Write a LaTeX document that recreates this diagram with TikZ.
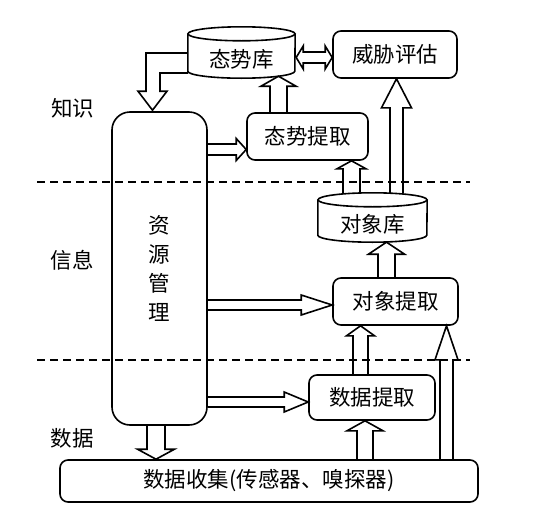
\documentclass[tikz,border=0pt]{standalone}
\usepackage{fontspec}
\setmainfont{Noto Sans CJK SC}
\usetikzlibrary{calc}

\tikzset{
	box/.style={draw, line width=1.6pt, rounded corners=8pt, minimum width=#1, minimum height=47pt, inner sep=0pt},
	dbnode/.style={inner sep=0pt},
	dbline/.style={line width=1.6pt},
	fat/.style={line width=1.6pt, line join=miter},
	layer/.style={inner sep=0pt},
	divider/.style={line width=1.6pt, dash pattern=on 8pt off 5pt}
}

\newcommand\dbdraw[2]{%
	\draw[dbline] ($(#1.north)+(0,-7)$) ellipse [x radius=#2, y radius=7pt];
	\draw[dbline] ($(#1.north west)+(0,-7)$) -- ($(#1.south west)+(0,-7)$)
		arc[start angle=180, end angle=360, x radius=#2, y radius=7pt] -- ($(#1.north east)+(0,-7)$);
}
\newcommand\fatarrow[5]{%
	\coordinate (fa-b) at ($(#2)!#5!(#1)$);
	\draw[fat] ($(#1)!#3!90:(#2)$) -- ($(fa-b)!#3!90:(#2)$) -- ($(fa-b)!#4!90:(#2)$) -- (#2)
		-- ($(fa-b)!#4!-90:(#2)$) -- ($(fa-b)!#3!-90:(#2)$) -- ($(#1)!#3!-90:(#2)$);
}
\newcommand\fatboth[5]{%
	\coordinate (fb-a) at ($(#1)!#5!(#2)$);
	\coordinate (fb-b) at ($(#2)!#5!(#1)$);
	\draw[fat] (#1) -- ($(fb-a)!#4!90:(#2)$) -- ($(fb-a)!#3!90:(#2)$) -- ($(fb-b)!#3!-90:(#1)$)
		-- ($(fb-b)!#4!-90:(#1)$) -- (#2) -- ($(fb-b)!#4!90:(#1)$) -- ($(fb-b)!#3!90:(#1)$)
		-- ($(fb-a)!#3!-90:(#2)$) -- ($(fb-a)!#4!-90:(#2)$) -- cycle;
}

\begin{document}
\begin{tikzpicture}[x=1pt, y=-1pt, font=\fontsize{21.5}{29}\selectfont]
	\useasboundingbox (0,0) rectangle (558,509);

	\draw[divider] (37,182) -- (470,182);
	\draw[divider] (37,360) -- (470,360);

	\node[layer] (knowledge) at (72.5,108) {知识};
	\node[layer] (info) at (72,260) {信息};
	\node[layer] (data) at (72,438) {数据};

	\node[dbnode, minimum width=107pt, minimum height=37pt] (sitdb) at (241.5,59.5) {态势库};
	\dbdraw{sitdb}{53.5pt}
	\node[box=124pt] (threat) at (395,54.5) {威胁评估};
	\node[box=121pt] (sitext) at (307.5,136.5) {态势提取};
	\node[dbnode, minimum width=109pt, minimum height=35pt] (objdb) at (372.5,224.5) {对象库};
	\dbdraw{objdb}{54.5pt}
	\node[box=125pt] (objext) at (395.5,301.5) {对象提取};
	\node[box=126pt, minimum height=45pt] (dataext) at (372,397.5) {数据提取};
	\node[box=418pt, minimum height=42pt] (datacol) at (269,481) {数据收集(传感器、嗅探器)};
	\node[box=95pt, minimum height=313pt, rounded corners=18pt, align=center] (resource) at (159.5,268.5) {资\\源\\管\\理};

	\coordinate (kt) at ($(resource.north)+(-7,-1)$);
	\draw[fat] ($(sitdb.west)+(0,-6.5)$) -| ($(kt)+(-6.5,-19)$) -- ++(-8,0) -- (kt) -- ++(14.5,-19) -- ++(-7,0) |- ($(sitdb.west)+(0,13.5)$);

	\coordinate (b1) at ($(sitdb.east)+(1,-2)$);
	\coordinate (b2) at (threat.west |- b1);
	\fatboth{b1}{b2}{5.5pt}{11.5pt}{7pt}

	\coordinate (a3e) at ($(sitext.west)+(0,13)$);
	\coordinate (a3s) at (resource.east |- a3e);
	\fatarrow{a3s}{a3e}{5.5pt}{11pt}{10pt}

	\coordinate (a4s) at ($(sitext.north)+(-29,0)$);
	\coordinate (a4e) at ($(a4s |- sitdb.south)+(0,-2)$);
	\fatarrow{a4s}{a4e}{8.5pt}{17.5pt}{10pt}

	\coordinate (a5e) at ($(sitext.south)+(44,0)$);
	\coordinate (a5s) at ($(a5e |- objdb.north)+(0,-14)$);
	\fatarrow{a5s}{a5e}{8.5pt}{14.5pt}{8pt}

	\coordinate (a6e) at ($(threat.south)+(1.5,0)$);
	\coordinate (a6s) at ($(a6e |- objdb.north)+(0,-14)$);
	\fatarrow{a6s}{a6e}{6.5pt}{15pt}{29pt}

	\coordinate (a7e) at ($(objext.west)+(0,3.5)$);
	\coordinate (a7s) at (resource.east |- a7e);
	\fatarrow{a7s}{a7e}{5pt}{10pt}{31pt}

	\coordinate (a8s) at ($(objext.north)+(-9,0)$);
	\coordinate (a8e) at (a8s |- objdb.south);
	\fatarrow{a8s}{a8e}{8.5pt}{18pt}{12pt}

	\coordinate (a9s) at ($(dataext.north)+(-11.5,0)$);
	\coordinate (a9e) at (a9s |- objext.south);
	\fatarrow{a9s}{a9e}{7.5pt}{14pt}{10pt}

	\coordinate (a10e) at ($(objext.south)+(51,0)$);
	\coordinate (a10s) at (a10e |- datacol.north);
	\fatarrow{a10s}{a10e}{6.5pt}{11.5pt}{34pt}

	\coordinate (a11e) at ($(dataext.west)+(0,4.5)$);
	\coordinate (a11s) at (resource.east |- a11e);
	\fatarrow{a11s}{a11e}{5pt}{10pt}{24pt}

	\coordinate (a12e) at ($(dataext.south)+(-7,0)$);
	\coordinate (a12s) at (a12e |- datacol.north);
	\fatarrow{a12s}{a12e}{8pt}{18pt}{10pt}

	\coordinate (a13s) at ($(resource.south)+(-3.5,0)$);
	\coordinate (a13e) at (a13s |- datacol.north);
	\fatarrow{a13s}{a13e}{9pt}{18.5pt}{10pt}
\end{tikzpicture}
\end{document}
